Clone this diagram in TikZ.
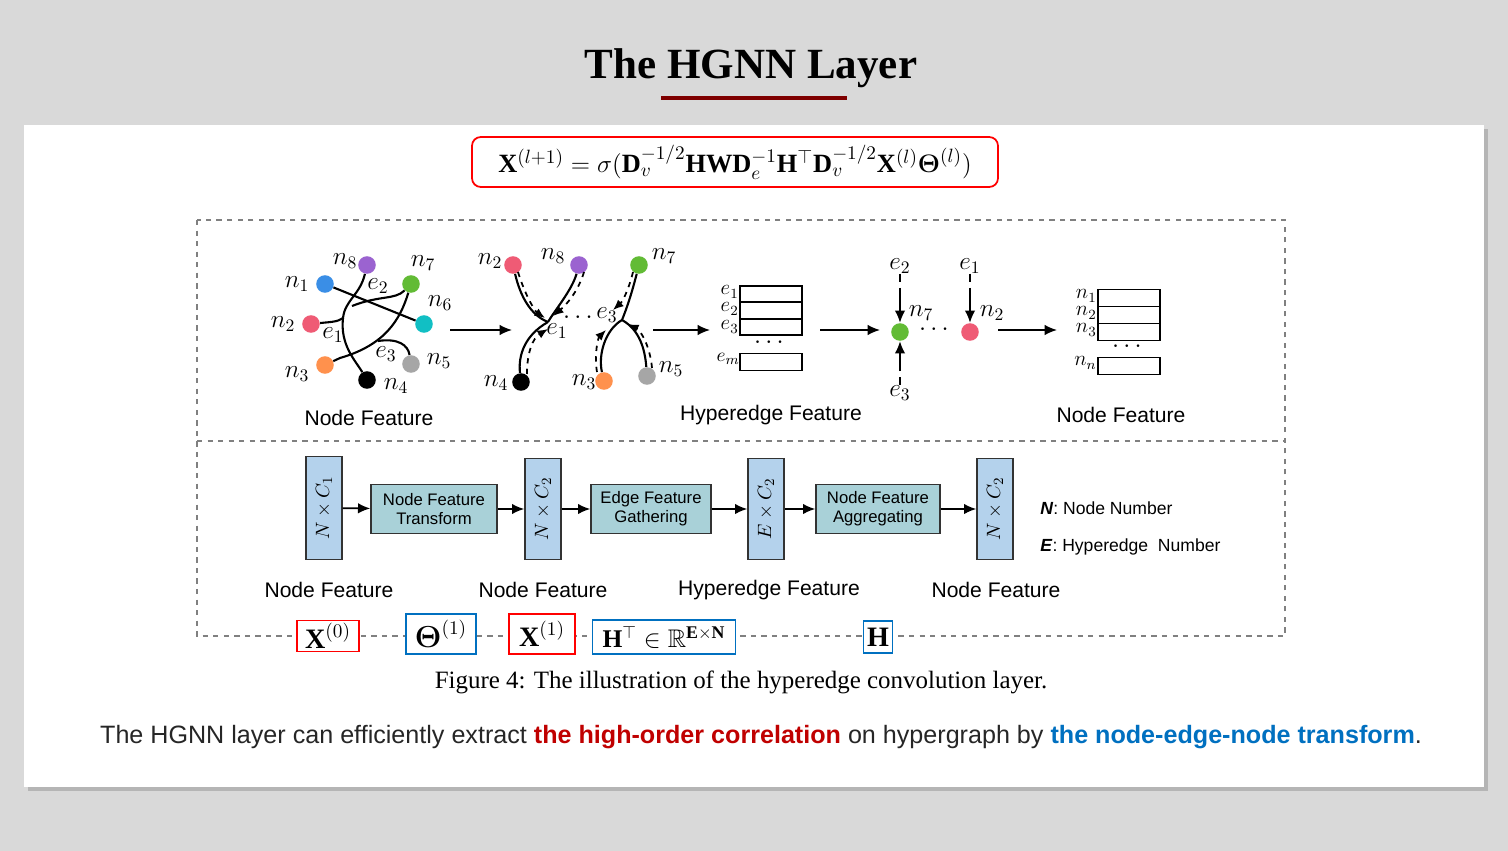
\documentclass[tikz,border=0pt]{standalone}
\usepackage{amsmath,amssymb}
\usepackage{fontspec}
\setmainfont{Liberation Serif}
\setsansfont{Liberation Sans}
\usetikzlibrary{arrows.meta,shadows}
\definecolor{bg}{HTML}{D9D9D9}
\definecolor{dred}{HTML}{7F0000}
\definecolor{rr}{HTML}{C00000}
\definecolor{bb}{HTML}{0070C0}
\definecolor{cpink}{HTML}{EF5B75}
\definecolor{cpurple}{HTML}{9B63D0}
\definecolor{cgreen}{HTML}{62BB35}
\definecolor{cblue}{HTML}{3A8EE6}
\definecolor{ccyan}{HTML}{11BFC4}
\definecolor{cgray}{HTML}{A6A6A6}
\definecolor{corange}{HTML}{FF914D}
\definecolor{vbox}{HTML}{B4D2EC}
\definecolor{tbox}{HTML}{A9D1D8}
\tikzset{
 dot/.style={circle,inner sep=0pt,minimum size=10pt},
 lab/.style={inner sep=0pt,font=\fontsize{14}{16}\selectfont},
 tlab/.style={inner sep=0pt,font=\fontsize{12}{13}\selectfont,anchor=east},
 arr/.style={-{Latex[length=7pt,width=6pt]},line width=1pt},
 sfl/.style={font=\sffamily\fontsize{12}{14}\selectfont,inner sep=0pt},
 cell/.style={draw,line width=1pt,minimum width=62*0.02cm,minimum height=16.5*0.02cm,inner sep=0pt},
 vb/.style={draw=black!80,fill=vbox,line width=0.8pt},
 tb/.style={draw=black!80,fill=tbox,line width=0.8pt,align=center,font=\sffamily\fontsize{9.5}{11}\selectfont},
 fbox/.style={fill=white,line width=0.6pt,inner sep=2pt},
 curve/.style={line width=1.2pt},
 dsh/.style={dashed,line width=1pt,-{Latex[length=6pt,width=5pt]}},
 vdash/.style={line width=1pt,dash pattern=on 5pt off 3pt},
}
\begin{document}
\begin{tikzpicture}[x=0.02cm,y=-0.02cm]
\useasboundingbox (0,0) rectangle (1508,851);
\fill[bg] (0,0) rectangle (1508,851);
\fill[white,drop shadow={shadow xshift=2pt,shadow yshift=-2pt,opacity=0.4}] (24,125) rectangle (1484,787);
\node[font=\bfseries\fontsize{24.5}{28}\selectfont,inner sep=0pt] (title) at (751,68) {The HGNN Layer};
\draw[dred,line width=2.2pt] (661,98) -- (847,98);
\node[draw=red,rounded corners=5pt,line width=1pt,minimum width=526*0.02cm,minimum height=50*0.02cm,font=\fontsize{15}{17}\selectfont] (formula) at (735,162)
 {$\mathbf{X}^{(l+1)}=\sigma(\mathbf{D}_v^{-1/2}\mathbf{HWD}_e^{-1}\mathbf{H}^{\top}\mathbf{D}_v^{-1/2}\mathbf{X}^{(l)}\boldsymbol{\Theta}^{(l)})$};
\draw[gray,dashed,line width=0.8pt] (197,220) rectangle (1285,636);
\draw[gray,dashed,line width=0.8pt] (197,441) -- (1285,441);

% hypergraph
\node[dot,fill=cpurple] (a8) at (367,265) {};
\node[dot,fill=cblue] (a1) at (325,284) {};
\node[dot,fill=cgreen] (a7) at (411,284) {};
\node[dot,fill=ccyan] (a6) at (424,324) {};
\node[dot,fill=cpink] (a2) at (311,324) {};
\node[dot,fill=cgray] (a5) at (411,364) {};
\node[dot,fill=corange] (a3) at (325,365) {};
\node[dot,fill=black] (a4) at (367,380) {};
\coordinate (j1) at (343,318);
\coordinate (j3) at (378,341);
\draw[curve] (a1) -- (a6);
\draw[curve] (a8) .. controls (360,295) and (345,300) .. (j1);
\draw[curve] (a2) .. controls (330,322) and (338,322) .. (j1);
\draw[curve] (j1) .. controls (340,345) and (355,360) .. (a4);
\draw[curve] (352,306) .. controls (380,295) and (395,300) .. (a7);
\draw[curve] (a7) .. controls (400,320) and (385,345) .. (340,358) -- (a3);
\draw[curve] (j3) .. controls (398,338) and (408,345) .. (a5);
\node[lab] (l8) at (345,261) {$n_8$};
\node[lab] (le2) at (378,286) {$e_2$};
\node[lab] (l7) at (423,263) {$n_7$};
\node[lab] (l1) at (297,284) {$n_1$};
\node[lab] (l6) at (440,303) {$n_6$};
\node[lab] (l2) at (283,324) {$n_2$};
\node[lab] (le1) at (333,335) {$e_1$};
\node[lab] (le3) at (386,354) {$e_3$};
\node[lab] (l5) at (439,361) {$n_5$};
\node[lab] (l3) at (297,374) {$n_3$};
\node[lab] (l4) at (396,386) {$n_4$};

% split view
\node[dot,fill=cpink] (b2) at (513,265) {};
\node[dot,fill=cpurple] (b8) at (579,265) {};
\node[dot,fill=cgreen] (b7) at (639,265) {};
\node[dot,fill=black] (b4) at (521,382) {};
\node[dot,fill=corange] (b3) at (604,381) {};
\node[dot,fill=cgray] (b5) at (647,376) {};
\coordinate (c1) at (548,322);
\coordinate (c3) at (622,320);
\draw[curve] (b2) .. controls (520,295) and (530,315) .. (c1);
\draw[curve] (b8) .. controls (572,290) and (555,310) .. (c1);
\draw[curve] (c1) .. controls (525,335) and (518,355) .. (b4);
\draw[dsh] (518,272) .. controls (526,298) and (536,312) .. (545,318);
\draw[dsh] (584,272) .. controls (578,292) and (566,305) .. (553,316);
\draw[dsh] (527,374) .. controls (527,352) and (533,338) .. (548,329);
\draw[curve] (b7) .. controls (632,292) and (628,305) .. (c3);
\draw[curve] (c3) .. controls (605,330) and (598,355) .. (b3);
\draw[curve] (c3) .. controls (640,330) and (645,350) .. (b5);
\draw[dsh] (633,272) .. controls (628,292) and (622,302) .. (613,310);
\draw[dsh] (597,372) .. controls (594,355) and (598,338) .. (606,330);
\draw[dsh] (652,368) .. controls (650,345) and (640,330) .. (628,324);
\node[lab] (m2) at (490,261) {$n_2$};
\node[lab] (m8) at (553,256) {$n_8$};
\node[lab] (m7) at (664,256) {$n_7$};
\node[lab] (me1) at (557,331) {$e_1$};
\node[lab] (me3) at (607,315) {$e_3$};
\node[lab] (mdots) at (580,318) {$\cdots$};
\node[lab] (m4) at (496,383) {$n_4$};
\node[lab] (m3) at (584,382) {$n_3$};
\node[lab] (m5) at (671,369) {$n_5$};

% hyperedge table
\node[cell] (t1) at (771,294) {};
\node[cell] (t2) at (771,310.5) {};
\node[cell] (t3) at (771,327) {};
\node[lab] (tdots) at (771,343) {$\cdots$};
\node[cell,minimum height=17*0.02cm] (tm) at (771,362) {};
\node[tlab] (te1) at (739,292) {$e_1$};
\node[tlab] (te2) at (739,309) {$e_2$};
\node[tlab] (te3) at (739,327) {$e_3$};
\node[tlab,font=\fontsize{11}{12}\selectfont] (tem) at (740,359) {$e_m$};

% aggregation
\node[dot,fill=cgreen] (g7) at (900,332) {};
\node[dot,fill=cpink] (g2) at (970,332) {};
\node[lab] (ge2) at (900,266) {$e_2$};
\node[lab] (ge3) at (900,393) {$e_3$};
\node[lab] (ge1) at (970,266) {$e_1$};
\draw[vdash] (ge2) -- (900,298);
\draw[arr] (900,296) -- (g7);
\draw[vdash] (ge3) -- (900,366);
\draw[arr] (900,368) -- (g7);
\draw[vdash] (ge1) -- (970,298);
\draw[arr] (970,296) -- (g2);
\node[lab] (g7l) at (921,313) {$n_7$};
\node[lab] (g2l) at (992,313) {$n_2$};
\node[lab] (gdots) at (936,330) {$\cdots$};

% node table
\node[cell,minimum height=17*0.02cm] (u1) at (1129,298) {};
\node[cell,minimum height=17*0.02cm] (u2) at (1129,315) {};
\node[cell,minimum height=17*0.02cm] (u3) at (1129,332) {};
\node[lab] (udots) at (1129,347) {$\cdots$};
\node[cell,minimum height=17*0.02cm] (un) at (1129,366) {};
\node[tlab] (un1) at (1097,296) {$n_1$};
\node[tlab] (un2) at (1097,313) {$n_2$};
\node[tlab] (un3) at (1097,330) {$n_3$};
\node[tlab] (unn) at (1097,363) {$n_n$};

\draw[arr] (450,330) -- (512,330);
\draw[arr] (653,330) -- (710,330);
\draw[arr] (820,330) -- (880,330);
\draw[arr] (998,330) -- (1057,330);

\node[sfl] (f1) at (369,418) {Node Feature};
\node[sfl] (f2) at (771,415) {Hyperedge Feature};
\node[sfl] (f3) at (1121,415) {Node Feature};

% bottom pipeline
\node[vb,minimum width=36*0.02cm,minimum height=103*0.02cm] (v1) at (324,508) {};
\node[rotate=90,font=\fontsize{11}{12}\selectfont] at (v1) {$N\times C_1$};
\node[vb,minimum width=36*0.02cm,minimum height=101*0.02cm] (v2) at (543,509) {};
\node[rotate=90,font=\fontsize{11}{12}\selectfont] at (v2) {$N\times C_2$};
\node[vb,minimum width=36*0.02cm,minimum height=101*0.02cm] (v3) at (766,509) {};
\node[rotate=90,font=\fontsize{11}{12}\selectfont] at (v3) {$E\times C_2$};
\node[vb,minimum width=36*0.02cm,minimum height=101*0.02cm] (v4) at (995,509) {};
\node[rotate=90,font=\fontsize{11}{12}\selectfont] at (v4) {$N\times C_2$};
\node[tb,minimum width=126*0.02cm,minimum height=49*0.02cm] (p1) at (434,509) {Node Feature\\Transform};
\node[tb,minimum width=120*0.02cm,minimum height=49*0.02cm] (p2) at (651,509) {Edge Feature\\Gathering};
\node[tb,minimum width=124*0.02cm,minimum height=49*0.02cm] (p3) at (878,509) {Node Feature\\Aggregating};
\draw[arr] (v1) -- (p1);
\draw[arr] (p1) -- (v2);
\draw[arr] (v2) -- (p2);
\draw[arr] (p2) -- (v3);
\draw[arr] (v3) -- (p3);
\draw[arr] (p3) -- (v4);
\node[sfl] (h1) at (329,590) {Node Feature};
\node[sfl] (h2) at (543,590) {Node Feature};
\node[sfl] (h3) at (769,590) {Hyperedge Feature};
\node[sfl] (h4) at (996,590) {Node Feature};
\node[sfl,anchor=west,font=\sffamily\fontsize{10}{12}\selectfont] (k1) at (1040,508) {\textbf{\textit{N}}: Node Number};
\node[sfl,anchor=west,font=\sffamily\fontsize{10}{12}\selectfont] (k2) at (1040,547) {\textbf{\textit{E}}: Hyperedge\ \ Number};

% bottom labels
\node[fbox,draw=red,minimum width=62*0.02cm,minimum height=31*0.02cm,font=\fontsize{16}{18}\selectfont,inner sep=1pt] (x0) at (328,636) {$\mathbf{X}^{(0)}$};
\node[fbox,draw=bb,minimum width=70*0.02cm,minimum height=40*0.02cm,font=\fontsize{16}{18}\selectfont,inner sep=1pt] (th) at (441,634) {$\boldsymbol{\Theta}^{(1)}$};
\node[fbox,draw=red,minimum width=66*0.02cm,minimum height=40*0.02cm,font=\fontsize{16}{18}\selectfont,inner sep=1pt] (x1) at (542,634) {$\mathbf{X}^{(1)}$};
\node[fbox,draw=bb,minimum width=143*0.02cm,minimum height=34*0.02cm,font=\fontsize{14.5}{16}\selectfont,inner sep=1pt] (ht) at (664,637) {$\mathbf{H}^{\top}\in\mathbb{R}^{\mathbf{E}\times\mathbf{N}}$};
\node[fbox,draw=bb,minimum width=29*0.02cm,minimum height=32*0.02cm,font=\fontsize{16}{18}\selectfont,inner sep=1pt] (hh) at (878,637) {$\mathbf{H}$};

\node[font=\fontsize{14.2}{16}\selectfont,inner sep=0pt] (cap) at (741,682) {Figure 4: The illustration of the hyperedge convolution layer.};
\node[font=\sffamily\fontsize{14.3}{17}\selectfont,inner sep=0pt,text=black!85] (sent) at (761,737) {The HGNN layer can efficiently extract \textcolor{rr}{\textbf{the high-order correlation}} on hypergraph by \textcolor{bb}{\textbf{the node-edge-node transform}}.};
\end{tikzpicture}
\end{document}
